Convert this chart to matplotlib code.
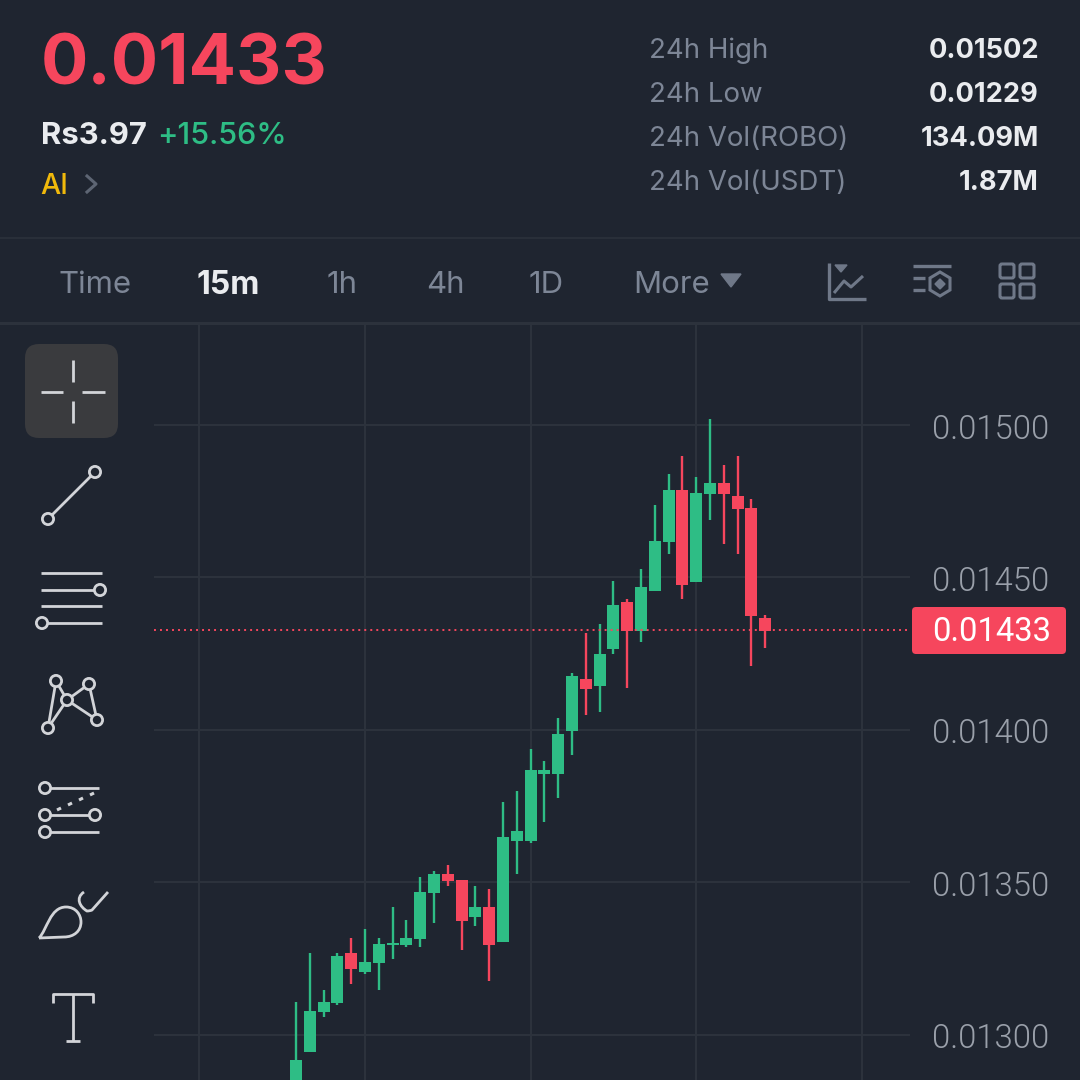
import matplotlib
matplotlib.use("Agg")
import matplotlib.pyplot as plt
from matplotlib.patches import FancyBboxPatch, Circle, Polygon, PathPatch
from matplotlib.path import Path
from matplotlib.transforms import ScaledTranslation

BG = "#1f2530"; GRID = "#2c323c"; GREEN = "#2ebd85"; RED = "#f6465d"
WHITE = "#eaecef"; GREY = "#7d8696"; ICON = "#d2d4d8"; ICON2 = "#6f7888"

opens = [0.012803,0.012944,0.013075,0.013105,0.013269,0.013207,0.013236,0.013295,0.013295,0.013315,
         0.013466,0.013528,0.013508,0.013387,0.013420,0.013305,0.013636,0.013636,0.013856,0.013856,
         0.013997,0.014167,0.014144,0.014266,0.014420,0.014325,0.014456,0.014616,0.014787,0.014485,
         0.014774,0.014810,0.014767,0.014728,0.014367]
closes = [0.012918,0.013079,0.013108,0.013259,0.013216,0.013239,0.013298,0.013302,0.013318,0.013469,
          0.013528,0.013505,0.013374,0.013420,0.013295,0.013649,0.013669,0.013869,0.013869,0.013987,
          0.014177,0.014134,0.014249,0.014410,0.014325,0.014469,0.014620,0.014787,0.014475,0.014777,
          0.014810,0.014774,0.014725,0.014374,0.014325]
highs = [0.013108,0.013269,0.013148,0.013269,0.013318,0.013348,0.013318,0.013420,0.013377,0.013518,
         0.013538,0.013557,0.013508,0.013489,0.013479,0.013764,0.013800,0.013938,0.013898,0.014039,
         0.014187,0.014318,0.014348,0.014489,0.014430,0.014528,0.014738,0.014839,0.014898,0.014830,
         0.015020,0.014869,0.014898,0.014757,0.014377]
lows = [0.012754,0.012944,0.013059,0.013098,0.013167,0.013200,0.013148,0.013249,0.013289,0.013289,
        0.013367,0.013489,0.013279,0.013357,0.013177,0.013305,0.013528,0.013630,0.013698,0.013777,
        0.013918,0.014049,0.014059,0.014249,0.014138,0.014289,0.014456,0.014577,0.014430,0.014485,
        0.014689,0.014610,0.014577,0.014210,0.014269]
price_ticks = [0.0130, 0.0135, 0.0140, 0.0145, 0.0150]
price_labels = ["0.01300", "0.01350", "0.01400", "0.01450", "0.01500"]
time_ticks = [-7, 5, 17, 29, 41]
last_price = 0.01433
stat_names = ["24h High", "24h Low", "24h Vol(ROBO)", "24h Vol(USDT)"]
stat_values = ["0.01502", "0.01229", "134.09M", "1.87M"]
tabs = ["Time", "15m", "1h", "4h", "1D", "More"]

W = 1080
fig = plt.figure(figsize=(10.8, 10.8), dpi=100, facecolor=BG)
px_down = ScaledTranslation(0, -1/100, fig.dpi_scale_trans)

# ---- price chart
ax = fig.add_axes([154/W, 0, (910-154)/W, (W-325)/W], facecolor=BG)
ax.set_xlim(-10.29, 44.49)
ax.set_ylim(0.012852, 0.015328)
for s in ax.spines.values():
    s.set_visible(False)
ax.set_xticks(time_ticks)
ax.set_xticklabels([])
ax.set_yticks(price_ticks)
ax.set_yticklabels(price_labels, family="Roboto", fontweight=300, fontsize=23.6, color="#9aa0aa")
ax.yaxis.tick_right()
ax.tick_params(axis="both", length=0)
ax.tick_params(axis="y", pad=16)
for lbl in ax.get_yticklabels():
    lbl.set_transform(lbl.get_transform() + px_down)
ax.grid(True, color=GRID, linewidth=1.5)
ax.set_axisbelow(True)
for i in range(len(opens)):
    c = GREEN if closes[i] >= opens[i] else RED
    ax.vlines(i, lows[i], highs[i], color=c, linewidth=1.7, zorder=3)
    ax.bar(i, abs(closes[i]-opens[i]), bottom=min(opens[i], closes[i]), width=0.87, color=c, zorder=3, linewidth=0)
ax.plot([0, 1], [last_price, last_price], color=RED, linewidth=1.4, linestyle=(0, (1, 2.09)), zorder=4,
        transform=ax.get_yaxis_transform() + px_down)

# ---- interface layer
ui = fig.add_axes([0, 0, 1, 1], facecolor="none")
ui.set_xlim(0, W); ui.set_ylim(W, 0); ui.axis("off")

HF = "Inter"
ui.text(41, 66, "0.01433", color=RED, fontsize=50.6, family=HF, fontweight="bold", va="center")
ui.text(41, 136, "Rs3.97", color=WHITE, fontsize=22.3, family=HF, fontweight="bold", va="center")
ui.text(157, 136, "+15.56%", color=GREEN, fontsize=22, family=HF, fontweight="medium", va="center")
ui.text(40, 187, "AI", color="#f0b90b", fontsize=20.5, family=HF, fontweight="medium", va="center")
ui.plot([87, 96, 87], [176, 184, 192], color="#5d6573", lw=2.2)
for k, (n, v) in enumerate(zip(stat_names, stat_values)):
    y = 51 + 44*k
    ui.text(649, y, n, color=GREY, fontsize=19.9, family=HF, va="center")
    ui.text(1039, y, v, color=WHITE, fontsize=19.6, family=HF, fontweight="bold", va="center", ha="right")
ui.plot([0, W], [238, 238], color=GRID, lw=1.2)
ui.plot([0, W], [323, 323], color=GRID, lw=2.2)
tab_x = [58, 197, 327, 426, 529, 633]
for t, x in zip(tabs, tab_x):
    act = t == "15m"
    ui.text(x, 285, t, color=WHITE if act else GREY, fontsize=23 if act else 22.4, family=HF,
            fontweight="bold" if act else "normal", va="center")
ui.add_patch(Polygon([(721, 274), (741, 274), (731, 287)], color=ICON2))

def line(xs, ys, c=ICON, lw=2.0, **k):
    ui.plot(xs, ys, color=c, lw=lw, solid_capstyle="butt", solid_joinstyle="round", **k)

def dot(x, y, r=5.6):
    ui.add_patch(Circle((x, y), r, fc=BG, ec=ICON, lw=2.0, zorder=5))

# toolbar right
line([829, 829, 866], [263, 299, 299], ICON2, 2.4)
ui.add_patch(Polygon([(835, 265), (847, 265), (841, 272)], color=ICON2))
line([834, 844, 851, 863], [293, 281, 287, 276], ICON2, 2.2)
line([913, 951], [266, 266], ICON2, 2.4)
line([913, 925], [278, 278], ICON2, 2.4)
line([913, 925], [290, 290], ICON2, 2.4)
ui.add_patch(Polygon([(940, 272), (950, 278), (950, 290), (940, 296), (930, 290), (930, 278)], fc="none", ec=ICON2, lw=2.2))
ui.add_patch(Polygon([(940, 279), (945, 284), (940, 289), (935, 284)], color=ICON2))
for x0 in (999, 1019):
    for y0 in (263, 283):
        ui.add_patch(FancyBboxPatch((x0+2.5, y0+2.5), 11, 11, boxstyle="round,pad=1.5,rounding_size=2",
                                    fc="none", ec=ICON2, lw=2.2))

# left toolbar
ui.add_patch(FancyBboxPatch((37, 356), 69, 70, boxstyle="round,pad=12,rounding_size=14", fc="#3a3b3e", ec="none"))
line([73, 73], [360, 382]); line([73, 73], [401, 423]); line([41, 63], [392, 392]); line([82, 105], [392, 392])
line([48, 95], [519, 472]); dot(48, 519); dot(95, 472)
line([41, 102], [573, 573]); line([41, 95], [590, 590]); dot(100, 590)
line([41, 102], [606, 606]); line([47, 102], [623, 623]); dot(42, 623)
pts = {"a": (56, 681), "b": (89, 684), "c": (67, 700), "d": (48, 728), "e": (97, 720)}
for p, q in ["ad", "ac", "ce", "bc", "cd", "be"]:
    line([pts[p][0], pts[q][0]], [pts[p][1], pts[q][1]])
for p in pts.values():
    dot(*p)
line([45, 99], [788, 788]); dot(45, 788)
for (x1, y1) in [(59, 809), (70, 804), (81, 799), (92, 794)]:
    line([x1-2, x1+2], [y1+1, y1-1], lw=2.2)
line([45, 95], [815, 815]); dot(45, 815); dot(95, 815)
line([45, 99], [832, 832]); dot(45, 832)
C4 = Path.CURVE4
brush = Path([(39, 938), (47, 930), (50, 907), (66, 907), (76, 907), (81, 915), (81, 922), (81, 931), (74, 937), (64, 937), (39, 938)],
             [Path.MOVETO, C4, C4, C4, C4, C4, C4, C4, C4, C4, Path.LINETO])
ui.add_patch(PathPatch(brush, fc="none", ec=ICON, lw=2.0))
handle = Path([(84, 892), (75, 898), (80, 907), (87, 911), (90, 911), (92, 910), (108, 892)],
              [Path.MOVETO, C4, C4, C4, Path.CURVE3, Path.CURVE3, Path.LINETO])
ui.add_patch(PathPatch(handle, fc="none", ec=ICON, lw=2.0))
line([53, 53, 93, 93], [1003, 994, 994, 1003])
line([73, 73], [994, 1041]); line([66, 80], [1041, 1041])

# last price badge
ui.add_patch(FancyBboxPatch((915, 610), 148, 41, boxstyle="round,pad=3,rounding_size=4", fc=RED, ec="none", zorder=6))
ui.text(992, 632, "0.01433", color="white", family="Roboto", fontsize=23.6, ha="center", va="center", zorder=7)

fig.savefig("out.png", dpi=100, facecolor=BG)
